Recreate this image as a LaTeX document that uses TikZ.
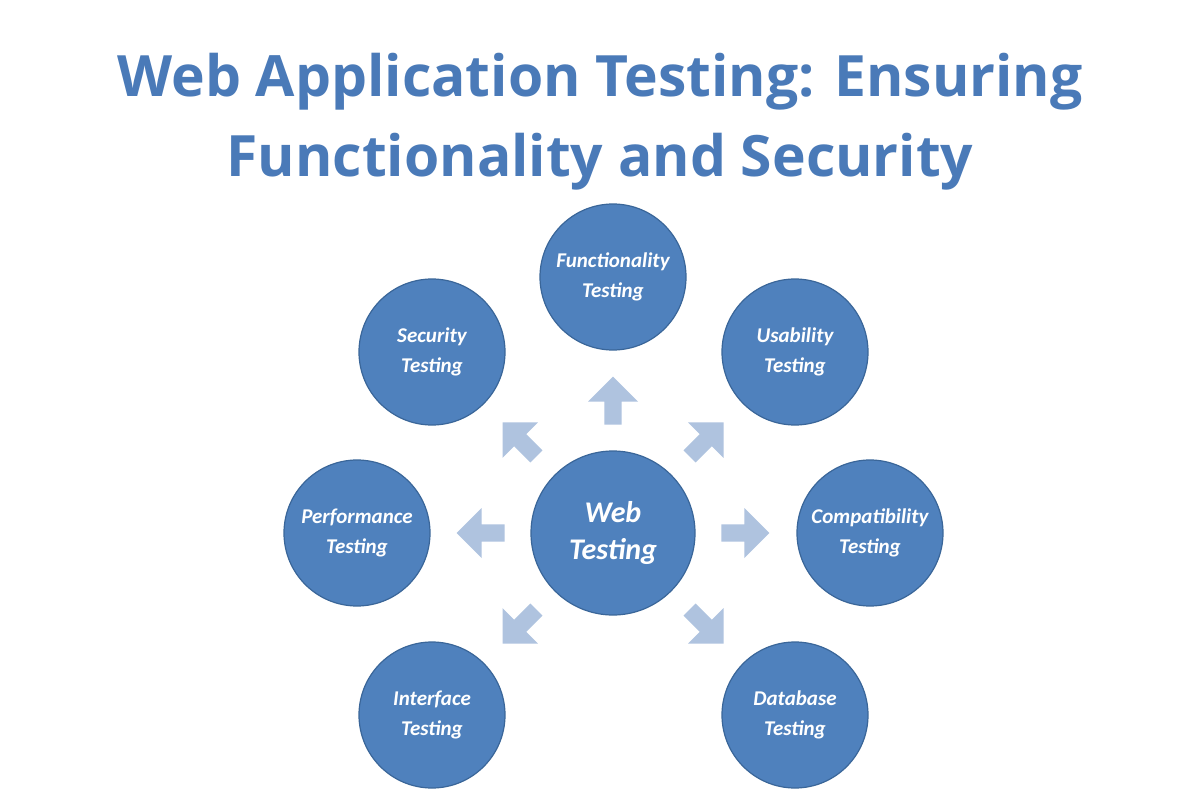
\documentclass[tikz,border=0pt]{standalone}
\usepackage{fontspec}
\setmainfont{Open Sans}
\newfontfamily\circfont{Carlito}
\usetikzlibrary{shapes.arrows,calc}
\definecolor{titleblue}{HTML}{4A7AB8}
\definecolor{circfill}{HTML}{4F81BD}
\definecolor{circline}{HTML}{3A6699}
\definecolor{arrfill}{HTML}{AFC3DF}
\tikzset{
 testc/.style={circle,fill=circfill,draw=circline,line width=1.2pt,minimum size=146pt,inner sep=0pt,align=center,text=white,font=\circfont\bfseries\itshape\fontsize{21}{30}\selectfont},
 blockarr/.style={single arrow,fill=arrfill,draw=none,minimum height=48pt,minimum width=50pt,single arrow head extend=10pt,inner sep=5pt},
}
\begin{document}
\begin{tikzpicture}[x=1pt,y=-1pt]
\useasboundingbox (0,0) rectangle (1200,800);
\fill[white] (0,0) rectangle (1200,800);
\node[text=titleblue,font=\bfseries\fontsize{57}{80}\selectfont,align=center] (title) at (600,122) {Web Application Testing: Ensuring\\Functionality and Security};
\node[testc,minimum size=164pt,font=\circfont\bfseries\itshape\fontsize{30}{37}\selectfont] (web) at (613,533) {Web\\Testing};
\node[testc] (fun) at (613,277) {Functionality\\Testing};
\node[testc] (usa) at (795,352) {Usability\\Testing};
\node[testc] (com) at (870,533) {Compatibility\\Testing};
\node[testc] (dat) at (795,715) {Database\\Testing};
\node[testc] (int) at (432,715) {Interface\\Testing};
\node[testc] (per) at (357,533) {Performance\\Testing};
\node[testc] (sec) at (432,352) {Security\\Testing};
\foreach \a/\n in {90/a1,45/a2,0/a3,-45/a4,-135/a5,180/a6,135/a7}{
  \node[blockarr,rotate=\a] (\n) at ($(web)+(\a:128pt)$) {};
}
\end{tikzpicture}
\end{document}
